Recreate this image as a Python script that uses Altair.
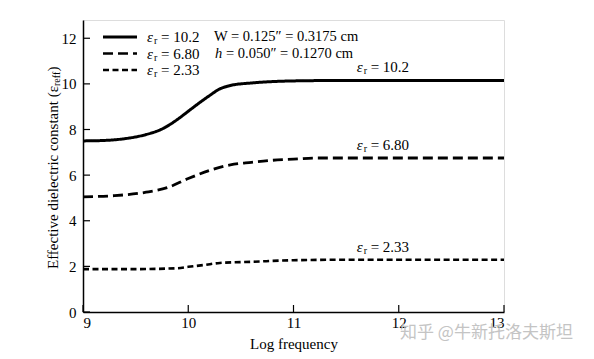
import altair as alt
import pandas as pd

# ---- data ----
x_102 = [9.0, 9.2, 9.4, 9.6, 9.75, 9.9, 10.0, 10.1, 10.2, 10.3, 10.4, 10.6, 10.8, 11.0, 11.5, 12.0, 13.0]
y_102 = [7.5, 7.52, 7.6, 7.78, 8.02, 8.45, 8.8, 9.15, 9.48, 9.78, 9.93, 10.04, 10.1, 10.13, 10.15, 10.15, 10.15]

x_680 = [9.0, 9.3, 9.6, 9.8, 10.0, 10.2, 10.4, 10.6, 10.8, 11.0, 11.2, 12.0, 13.0]
y_680 = [5.05, 5.1, 5.25, 5.45, 5.85, 6.2, 6.45, 6.56, 6.65, 6.7, 6.75, 6.75, 6.75]

x_233 = [9.0, 9.5, 9.9, 10.0, 10.15, 10.3, 10.6, 11.0, 11.5, 13.0]
y_233 = [1.88, 1.88, 1.92, 1.98, 2.06, 2.15, 2.2, 2.27, 2.29, 2.29]

series_names = ["10.2", "6.80", "2.33"]
x_ticks = [9, 10, 11, 12, 13]
y_ticks = [0, 2, 4, 6, 8, 10, 12]

rows = []
for name, xs_, ys_ in zip(series_names, [x_102, x_680, x_233], [y_102, y_680, y_233]):
    for a, b in zip(xs_, ys_):
        rows.append({"series": name, "f": a, "e": b})
df = pd.DataFrame(rows)

lab = pd.DataFrame({"series": series_names, "eq": ["= " + s for s in series_names],
                    "eps": ["ε"] * 3, "sub": ["r"] * 3,
                    "f": [11.6] * 3, "e": [y_102[-1], y_680[-1], y_233[-1]]})

SERIF = "Liberation Serif"
W, H = 421, 292
DASHES = [[1, 0], [10, 5], [6, 3.5]]
WIDTHS = [3, 2.6, 2.4]

xs = alt.Scale(domain=[9, 13], nice=False, zero=False)
ys = alt.Scale(domain=[0, 12.8], nice=False)

lines = alt.Chart(df).mark_line(color="black", strokeCap="butt", interpolate="monotone").encode(
    x=alt.X("f:Q", scale=xs, axis=alt.Axis(values=x_ticks, format="d", title="Log frequency", tickSize=0,
                                           labelPadding=3, titlePadding=6, domainColor="black",
                                           domainWidth=1.5, grid=False, labelFontSize=15,
                                           titleFontSize=15, labelFont=SERIF, titleFont=SERIF,
                                           titleFontWeight="normal", labelColor="black",
                                           titleColor="black")),
    y=alt.Y("e:Q", scale=ys, axis=alt.Axis(values=y_ticks, format="d", title=None,
                                           tickSize=0, labelPadding=7,
                                           domainColor="black", domainWidth=1.5, grid=False,
                                           labelFontSize=15, labelFont=SERIF,
                                           labelColor="black")),
    strokeDash=alt.StrokeDash("series:N", scale=alt.Scale(domain=series_names, range=DASHES), legend=None),
    strokeWidth=alt.StrokeWidth("series:N", scale=alt.Scale(domain=series_names, range=WIDTHS), legend=None),
)

# curve labels: italic epsilon, subscript r, value
base_lab = alt.Chart(lab).encode(x=alt.X("f:Q", scale=xs), y=alt.Y("e:Q", scale=ys))
lab_eps = base_lab.mark_text(font=SERIF, fontSize=15, fontStyle="italic", align="left",
                             baseline="middle", dy=-13, color="black").encode(text="eps:N")
lab_sub = base_lab.mark_text(font=SERIF, fontSize=10, align="left", baseline="middle",
                             dx=7, dy=-9, color="black").encode(text="sub:N")
lab_eq = base_lab.mark_text(font=SERIF, fontSize=15, align="left", baseline="middle",
                            dx=14, dy=-13, color="black").encode(text="eq:N")

yt = pd.DataFrame({"v": y_ticks})
xt = pd.DataFrame({"v": x_ticks})
yticks = alt.Chart(yt).mark_rule(color="black", strokeWidth=1.2).encode(
    y=alt.Y("v:Q", scale=ys), x=alt.value(0), x2=alt.value(7))
xticks = alt.Chart(xt).mark_rule(color="black", strokeWidth=1.2).encode(
    x=alt.X("v:Q", scale=xs), y=alt.value(H), y2=alt.value(H - 7))


def txt(t, x, y, size=15, style="normal", align="left", angle=0, color="black", font=SERIF):
    kw = dict(font=font, fontSize=size, fontStyle=style, align=align, baseline="middle", color=color)
    if angle:
        kw["angle"] = angle
    return alt.Chart(pd.DataFrame({"t": [t]})).mark_text(**kw).encode(
        text="t:N", x=alt.value(x), y=alt.value(y))


# legend (drawn by hand in the top-left corner)
legend_layers = []
leg_y = [17, 33.5, 50]
for name, dash, wdt, yy in zip(series_names, DASHES, WIDTHS, leg_y):
    legend_layers.append(
        alt.Chart(pd.DataFrame({"s": [name]})).mark_rule(color="black", strokeDash=dash,
                                                         strokeWidth=wdt, strokeCap="butt").encode(
            x=alt.value(20), x2=alt.value(54), y=alt.value(yy)))
    legend_layers.append(txt("ε", 64, yy, style="italic"))
    legend_layers.append(txt("r", 71, yy + 4, size=10))
    legend_layers.append(txt("= " + name, 78, yy))

info = [
    txt("W = 0.125″ = 0.3175 cm", 131, 17, size=14.5),
    txt("h", 132, 33.5, size=14.5, style="italic"),
    txt("= 0.050″ = 0.1270 cm", 143, 33.5, size=14.5),
]

# y-axis title with subscript
ytitle = [
    txt("Effective dielectric constant (ε", -30, 66, align="right", angle=270),
    txt("reff", -26, 66, size=10, angle=270),
    txt(")", -30, 51.5, angle=270),
]

wm = txt("知乎 @牛新托洛夫斯坦", 317, 313, size=17, color="#c4c4c4", font="Noto Sans CJK SC")

chart = alt.layer(lines, lab_eps, lab_sub, lab_eq, yticks, xticks, *legend_layers, *info, *ytitle, wm).properties(
    width=W, height=H,
    padding={"left": 75, "top": 12, "right": 80, "bottom": 40},
    autosize=alt.AutoSizeParams(type="none"),
).configure_view(stroke="black", strokeWidth=1.5).configure(background="white")

chart.save("out.html", embed_options={"renderer": "svg", "actions": False})
